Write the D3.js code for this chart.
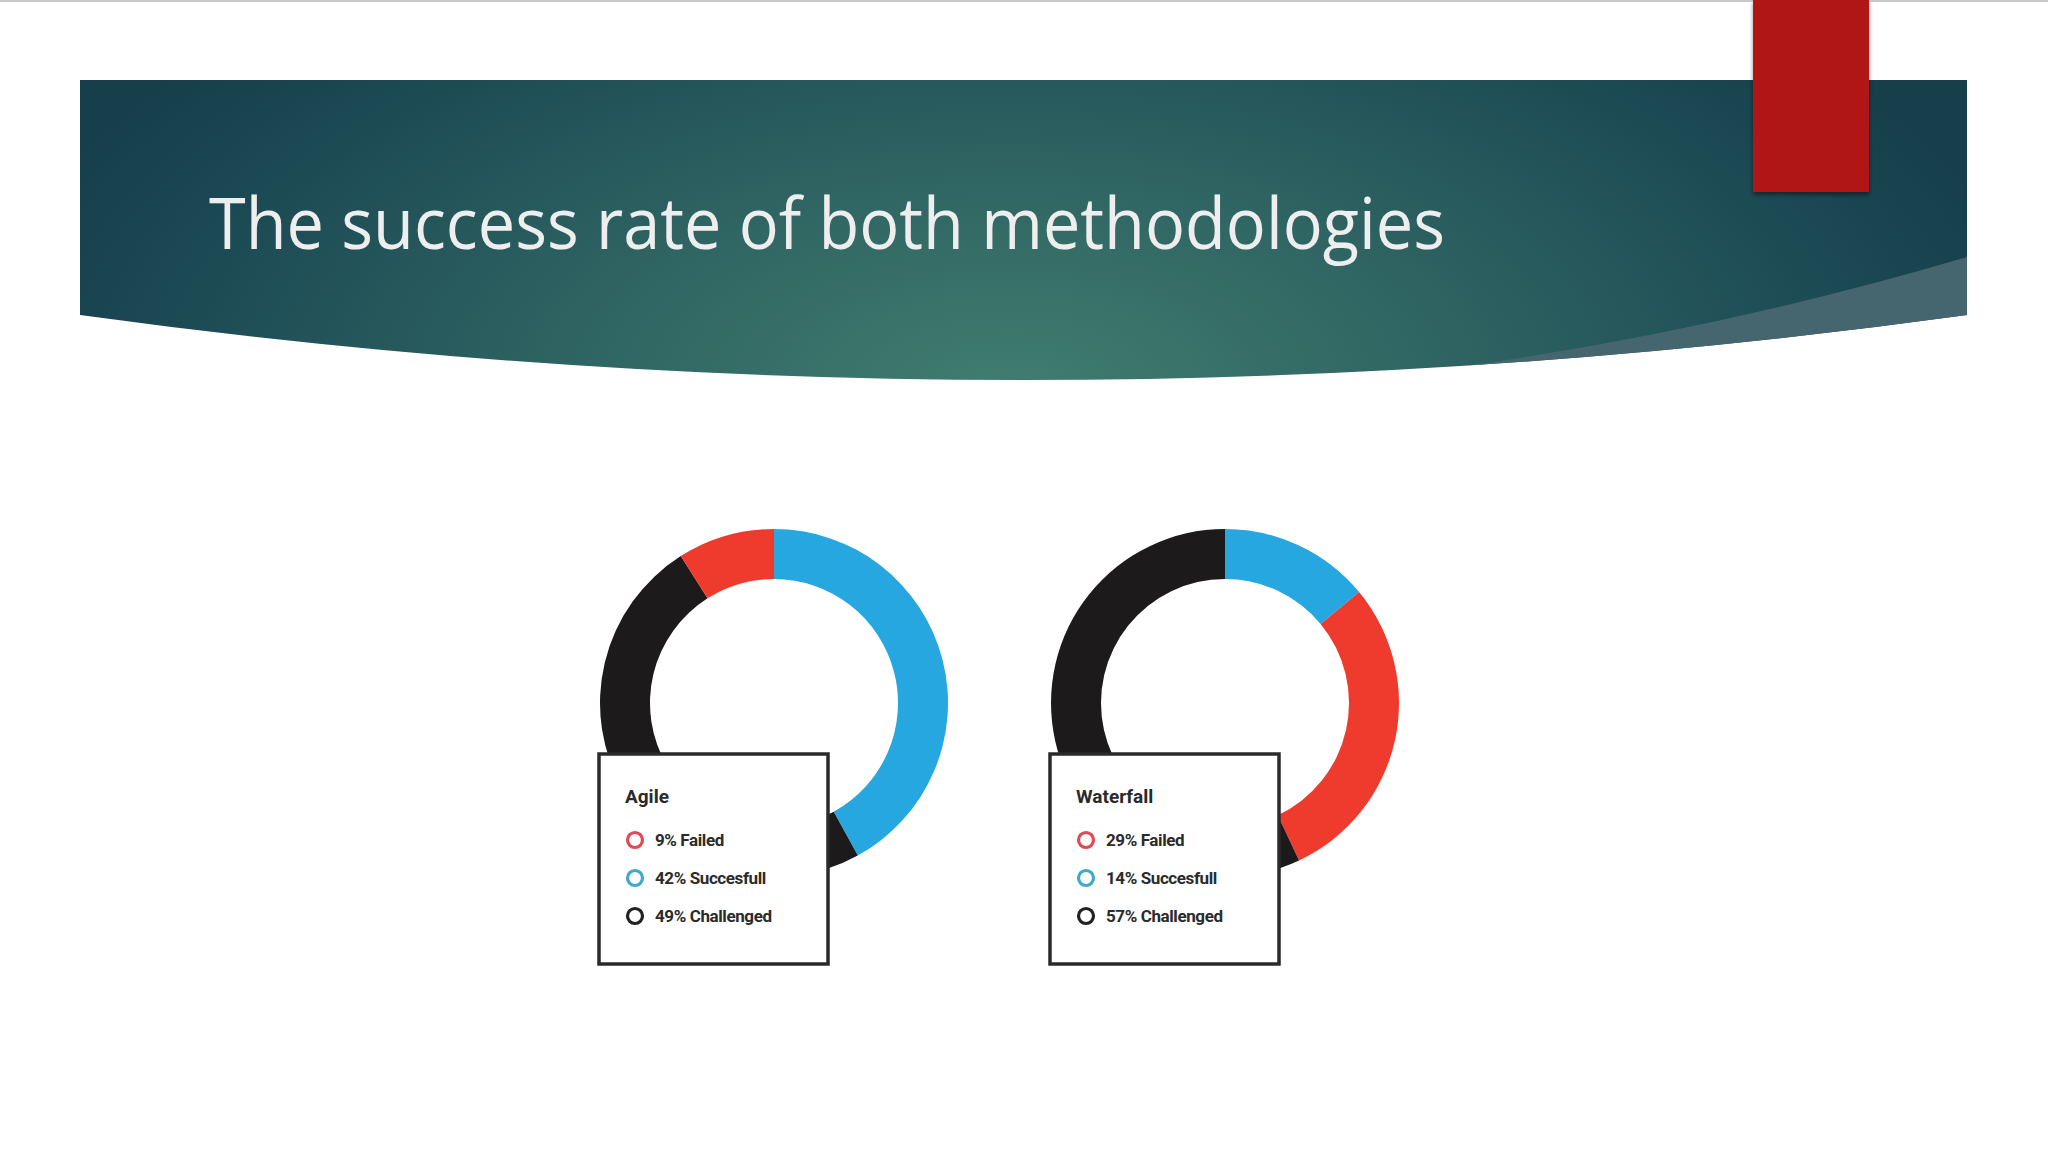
<!DOCTYPE html>
<html>
<head>
<meta charset="utf-8">
<script src="https://cdn.jsdelivr.net/npm/d3@7"></script>
<style>
  html, body { margin: 0; padding: 0; background: #ffffff; }
  svg { display: block; }
</style>
</head>
<body>
<svg id="chart" width="2048" height="1152"></svg>
<script>
// ---- data ----
const title = "The success rate of both methodologies";
const methods = ["Agile", "Waterfall"];
const categories = ["Failed", "Succesfull", "Challenged"]; // legend order
const agileValues = { Failed: 9, Succesfull: 42, Challenged: 49 };
const waterfallValues = { Failed: 29, Succesfull: 14, Challenged: 57 };
// clockwise drawing order starting at 12 o'clock
const agileOrder = ["Succesfull", "Challenged", "Failed"];
const waterfallOrder = ["Succesfull", "Failed", "Challenged"];

const seriesValues = { Agile: agileValues, Waterfall: waterfallValues };
const seriesOrder = { Agile: agileOrder, Waterfall: waterfallOrder };

const arcColor = d3.scaleOrdinal().domain(categories).range(["#ee3b2d", "#27a7e0", "#1d1a1b"]);
const legendColor = d3.scaleOrdinal().domain(categories).range(["#df4a55", "#3eaacb", "#222222"]);

const svg = d3.select("#chart");
const defs = svg.append("defs");

// ---- slide header ----
svg.append("rect").attr("x", 0).attr("y", 0).attr("width", 2048).attr("height", 2).attr("fill", "#c9c9c9");

const grad = defs.append("radialGradient")
  .attr("id", "bannerGrad")
  .attr("gradientUnits", "userSpaceOnUse")
  .attr("cx", 1010).attr("cy", 390).attr("r", 1050)
  .attr("gradientTransform", "translate(1010,390) scale(1,0.5) translate(-1010,-390)");
grad.append("stop").attr("offset", 0).attr("stop-color", "#417d6f");
grad.append("stop").attr("offset", 0.45).attr("stop-color", "#2d6261");
grad.append("stop").attr("offset", 0.85).attr("stop-color", "#1a4752");
grad.append("stop").attr("offset", 1).attr("stop-color", "#163e4b");

const bannerPath = "M80,80 H1967 V315 Q1023.5,445 80,315 Z";
defs.append("clipPath").attr("id", "bannerClip").append("path").attr("d", bannerPath);

svg.append("path").attr("d", bannerPath).attr("fill", "url(#bannerGrad)");
svg.append("path")
  .attr("d", "M1967,257 Q1720,330 1460,367 L1460,470 L1967,470 Z")
  .attr("fill", "#46666f")
  .attr("clip-path", "url(#bannerClip)");

const shadow = defs.append("filter").attr("id", "shadow").attr("x", "-20%").attr("y", "-20%").attr("width", "140%").attr("height", "140%");
shadow.append("feDropShadow").attr("dx", 0).attr("dy", 3).attr("stdDeviation", 2).attr("flood-color", "#000").attr("flood-opacity", 0.45);
svg.append("rect").attr("x", 1753).attr("y", 0).attr("width", 116).attr("height", 192)
  .attr("fill", "#b01616").attr("filter", "url(#shadow)");

svg.append("text")
  .attr("x", 209).attr("y", 249)
  .attr("font-family", "'Open Sans', 'Noto Sans', sans-serif")
  .attr("font-weight", 400)
  .attr("font-size", 71)
  .attr("fill", "#eeeeee")
  .attr("textLength", 1236)
  .attr("lengthAdjust", "spacingAndGlyphs")
  .text(title);

// ---- donuts ----
const xCenter = d3.scalePoint().domain(methods).range([774, 1225]);
const cy = 703;
const outerR = 174, innerR = 124;

const arc = d3.arc().innerRadius(innerR).outerRadius(outerR);

methods.forEach(m => {
  const vals = seriesValues[m];
  const order = seriesOrder[m];
  const pie = d3.pie().sort(null).value(k => vals[k]);
  const g = svg.append("g").attr("transform", `translate(${xCenter(m)},${cy})`);
  g.selectAll("path").data(pie(order)).join("path")
    .attr("d", arc)
    .attr("fill", d => arcColor(d.data));

  // legend box
  const bx = xCenter(m) - 175, by = 754, bw = 229, bh = 210;
  const lg = svg.append("g").attr("transform", `translate(${bx},${by})`);
  lg.append("rect").attr("x", 0).attr("y", 0).attr("width", bw).attr("height", bh)
    .attr("fill", "#ffffff").attr("stroke", "#2a2a2a").attr("stroke-width", 3.5);
  lg.append("text").attr("x", 26).attr("y", 49)
    .attr("font-family", "Roboto, 'Open Sans', sans-serif")
    .attr("font-weight", 700).attr("font-size", 19)
    .attr("fill", "#2a2a2a")
    .text(m);
  const rowY = d3.scalePoint().domain(categories).range([86, 162]);
  categories.forEach(c => {
    lg.append("circle").attr("cx", 36).attr("cy", rowY(c)).attr("r", 7.5)
      .attr("fill", "none").attr("stroke", legendColor(c)).attr("stroke-width", 3.2);
    lg.append("text").attr("x", 56).attr("y", rowY(c) + 6)
      .attr("font-family", "Roboto, 'Open Sans', sans-serif")
      .attr("font-weight", 700).attr("font-size", 17)
      .attr("letter-spacing", -0.4)
      .attr("fill", "#2b2b2b")
      .text(`${vals[c]}% ${c}`);
  });
});
</script>
</body>
</html>
